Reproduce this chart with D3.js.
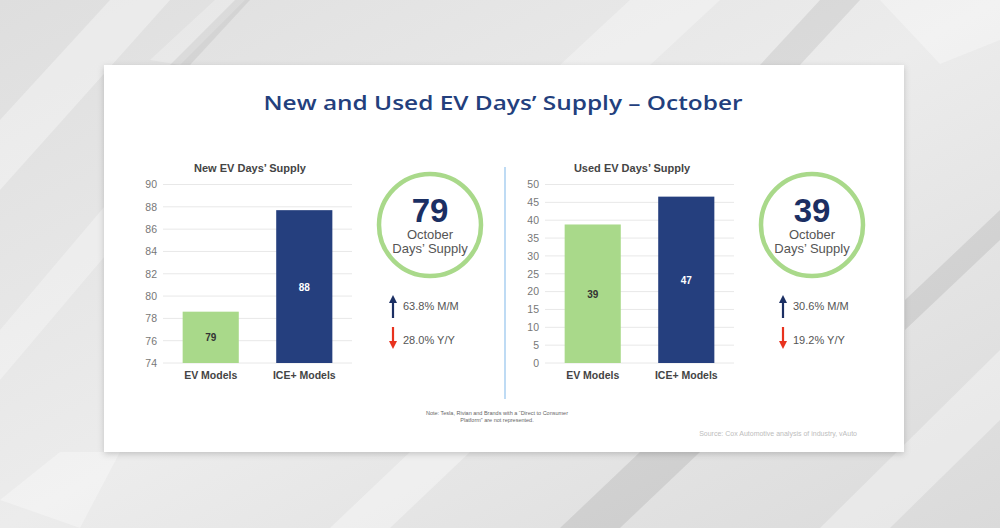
<!DOCTYPE html>
<html>
<head>
<meta charset="utf-8">
<script src="https://d3js.org/d3.v7.min.js"></script>
<style>
  body { margin: 0; background: #e4e4e4; }
  svg { display: block; }
  text { font-family: "Liberation Sans", Arial, sans-serif; }
</style>
</head>
<body>
<div id="chart"></div>
<script>
"use strict"

// dados
var categorias = ["EV Models", "ICE+ Models"];
var novosValores = [78.6, 87.7];
var novosRotulos = ["79", "88"];
var usadosValores = [38.8, 46.6];
var usadosRotulos = ["39", "47"];
var novosTicks = [74, 76, 78, 80, 82, 84, 86, 88, 90];
var usadosTicks = [0, 5, 10, 15, 20, 25, 30, 35, 40, 45, 50];
var destaques = ["79", "39"];
var variacoes = [["63.8% M/M", "28.0% Y/Y"], ["30.6% M/M", "19.2% Y/Y"]];

var largura = 1000, altura = 528;
var corVerde = "#a9d98a", corAzul = "#253f7e", corTitulo = "#233f7d";

var svg = d3.select("#chart").append("svg")
  .attr("width", largura).attr("height", altura);

// fundo cinza com faixas diagonais
var defs = svg.append("defs");
var grad = defs.append("linearGradient").attr("id", "fundo")
  .attr("x1", "0").attr("y1", "0").attr("x2", "1").attr("y2", "1");
grad.append("stop").attr("offset", "0").attr("stop-color", "#dedede");
grad.append("stop").attr("offset", "0.5").attr("stop-color", "#ececec");
grad.append("stop").attr("offset", "1").attr("stop-color", "#dadada");
svg.append("rect").attr("width", largura).attr("height", altura).attr("fill", "url(#fundo)");

var faixas = [
  [[0, 120], [110, 0], [170, 0], [0, 190], 0.35, "#fff"],
  [[150, 60], [215, 0], [245, 0], [180, 65], 0.25, "#fff"],
  [[170, 65], [235, 0], [250, 0], [190, 65], 0.06, "#000"],
  [[0, 330], [110, 200], [110, 250], [0, 380], 0.3, "#fff"],
  [[560, 65], [630, 0], [720, 0], [650, 65], 0.3, "#fff"],
  [[760, 65], [820, 0], [860, 0], [800, 65], 0.07, "#000"],
  [[880, 0], [1000, 0], [1000, 40], [940, 64], 0.3, "#fff"],
  [[330, 528], [410, 452], [470, 452], [390, 528], 0.35, "#fff"],
  [[560, 528], [640, 452], [700, 452], [620, 528], 0.08, "#000"],
  [[820, 528], [1000, 350], [1000, 420], [890, 528], 0.35, "#fff"],
  [[0, 500], [60, 452], [120, 452], [80, 528], 0.3, "#fff"],
  [[905, 300], [1000, 210], [1000, 240], [905, 330], 0.08, "#000"]
];
faixas.forEach(function (f) {
  svg.append("polygon")
    .attr("points", f.slice(0, 4).map(p => p.join(",")).join(" "))
    .attr("fill", f[5]).attr("opacity", f[4]);
});

// cartao branco com sombra
var sombra = defs.append("filter").attr("id", "sombra")
  .attr("x", "-5%").attr("y", "-5%").attr("width", "110%").attr("height", "115%");
sombra.append("feDropShadow").attr("dx", 0).attr("dy", 2).attr("stdDeviation", 3)
  .attr("flood-color", "#000").attr("flood-opacity", 0.18);
svg.append("rect").attr("x", 104).attr("y", 65).attr("width", 800).attr("height", 387)
  .attr("fill", "#fff").attr("filter", "url(#sombra)");

svg.append("text")
  .attr("x", 503).attr("y", 110)
  .attr("text-anchor", "middle")
  .style("font-family", "'Open Sans', sans-serif")
  .style("font-weight", 600)
  .style("font-size", "20.5px")
  .attr("fill", corTitulo)
  .attr("textLength", 479).attr("lengthAdjust", "spacingAndGlyphs")
  .text("New and Used EV Days\u2019 Supply \u2013 October");

// divisor
svg.append("line").attr("x1", 505).attr("x2", 505).attr("y1", 167).attr("y2", 399)
  .attr("stroke", "#9cc8ee").attr("stroke-width", 1.3);

function desenhaPainel(cfg) {
  var g = svg.append("g").attr("transform", "translate(" + cfg.x0 + ",0)");
  var larguraVis = 189;
  var x = d3.scaleBand().domain(categorias).range([0, larguraVis]).paddingInner(0.4).paddingOuter(0.21);
  var y = d3.scaleLinear().domain(cfg.dominio).range([363, 184.5]);

  // grade
  g.selectAll("line.grade").data(cfg.ticks).enter().append("line")
    .attr("x1", 0).attr("x2", larguraVis)
    .attr("y1", d => y(d)).attr("y2", d => y(d))
    .attr("stroke", "#e8e8e8").attr("stroke-width", 1);

  var eixoY = g.append("g").attr("transform", "translate(-6,0)")
    .call(d3.axisLeft(y).tickValues(cfg.ticks).tickSize(0).tickPadding(0));
  eixoY.select(".domain").remove();
  eixoY.selectAll("text").style("font-size", "10.5px").attr("fill", "#777")
    .style("font-family", "'Liberation Sans', Arial, sans-serif");

  var dados = categorias.map((c, i) => ({ cat: c, v: cfg.valores[i], rot: cfg.rotulos[i] }));
  g.selectAll("rect.barra").data(dados).enter().append("rect")
    .attr("x", d => x(d.cat))
    .attr("width", x.bandwidth())
    .attr("y", d => y(d.v))
    .attr("height", d => y(cfg.dominio[0]) - y(d.v))
    .attr("fill", (d, i) => i === 0 ? corVerde : corAzul);

  g.selectAll("text.rotulo").data(dados).enter().append("text")
    .attr("x", d => x(d.cat) + x.bandwidth() / 2)
    .attr("y", d => (y(d.v) + y(cfg.dominio[0])) / 2 + 4)
    .attr("text-anchor", "middle")
    .style("font-size", "10px").style("font-weight", "bold")
    .attr("fill", (d, i) => i === 0 ? "#333" : "#fff")
    .text(d => d.rot);

  var eixoX = g.append("g").attr("transform", "translate(0,363)")
    .call(d3.axisBottom(x).tickSize(0).tickPadding(9));
  eixoX.select(".domain").remove();
  eixoX.selectAll("text").style("font-size", "10.5px").style("font-weight", "bold")
    .attr("fill", "#444").style("font-family", "'Liberation Sans', Arial, sans-serif");

  g.append("text").attr("x", cfg.tituloX).attr("y", 172)
    .attr("text-anchor", "middle")
    .style("font-size", "11px").style("font-weight", "bold").attr("fill", "#444")
    .text(cfg.titulo);

  // circulo de destaque
  var c = svg.append("g").attr("transform", "translate(" + cfg.cx + ",225)");
  c.append("circle").attr("r", 51).attr("fill", "none")
    .attr("stroke", corVerde).attr("stroke-width", 4.5);
  c.append("text").attr("y", -3).attr("text-anchor", "middle")
    .style("font-size", "33px").style("font-weight", "bold").attr("fill", "#1b2f63")
    .text(cfg.destaque);
  c.append("text").attr("y", 14).attr("text-anchor", "middle")
    .style("font-size", "13px").attr("fill", "#555").text("October");
  c.append("text").attr("y", 28).attr("text-anchor", "middle")
    .style("font-size", "13px").attr("fill", "#555").text("Days\u2019 Supply");

  // setas
  var s = svg.append("g").attr("transform", "translate(" + cfg.ax + ",0)");
  s.append("line").attr("x1", 0).attr("x2", 0).attr("y1", 302).attr("y2", 318)
    .attr("stroke", "#1b2f63").attr("stroke-width", 2.2);
  s.append("path").attr("d", "M-4,303 L0,295 L4,303 Z").attr("fill", "#1b2f63");
  s.append("line").attr("x1", 0).attr("x2", 0).attr("y1", 327).attr("y2", 342)
    .attr("stroke", "#e8321e").attr("stroke-width", 2.2);
  s.append("path").attr("d", "M-4,341 L0,349 L4,341 Z").attr("fill", "#e8321e");
  s.append("text").attr("x", 10).attr("y", 310)
    .style("font-size", "11px").attr("fill", "#555").text(cfg.variacao[0]);
  s.append("text").attr("x", 10).attr("y", 344)
    .style("font-size", "11px").attr("fill", "#555").text(cfg.variacao[1]);
}

desenhaPainel({ x0: 163, dominio: [74, 90], ticks: novosTicks, valores: novosValores,
  rotulos: novosRotulos, titulo: "New EV Days\u2019 Supply", tituloX: 87,
  cx: 430, destaque: destaques[0], ax: 393, variacao: variacoes[0] });
desenhaPainel({ x0: 545, dominio: [0, 50], ticks: usadosTicks, valores: usadosValores,
  rotulos: usadosRotulos, titulo: "Used EV Days\u2019 Supply", tituloX: 87,
  cx: 812, destaque: destaques[1], ax: 783, variacao: variacoes[1] });

// notas
svg.append("text").attr("x", 497).attr("y", 415).attr("text-anchor", "middle")
  .style("font-size", "5.5px").attr("fill", "#666")
  .text("Note: Tesla, Rivian and Brands with a \u201CDirect to Consumer");
svg.append("text").attr("x", 497).attr("y", 422).attr("text-anchor", "middle")
  .style("font-size", "5.5px").attr("fill", "#666")
  .text("Platform\u201D are not represented.");
svg.append("text").attr("x", 857).attr("y", 436).attr("text-anchor", "end")
  .style("font-size", "7px").attr("fill", "#bdbdbd")
  .text("Source: Cox Automotive analysis of industry, vAuto");
</script>
</body>
</html>
